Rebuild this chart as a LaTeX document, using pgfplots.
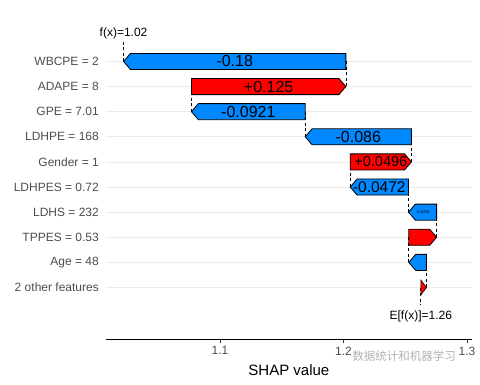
\documentclass[border=0pt]{standalone}
\usepackage{pgfplots}
\pgfplotsset{compat=1.18}
\usepackage{fontspec}
\setmainfont{Liberation Sans}
\newfontfamily\cjk{Noto Sans CJK SC}
\definecolor{shapblue}{RGB}{0,136,255}
\definecolor{shapred}{RGB}{255,0,0}
\definecolor{ticktext}{RGB}{77,77,77}
\definecolor{gridgray}{RGB}{235,235,235}
\begin{document}
\begin{tikzpicture}
\useasboundingbox (0,0) rectangle (480pt,384pt);
\begin{axis}[
  at={(106pt,44.5pt)}, anchor=south west,
  scale only axis, width=365.7pt, height=319pt,
  xmin=1.0077, xmax=1.3038, ymin=-1.07, ymax=11.63,
  clip=false,
  axis x line=bottom, axis y line=left,
  axis line style={-},
  y axis line style={draw=none},
  x axis line style={black, line width=0.8pt},
  xtick={1.1,1.2,1.3}, xticklabels={1.1,1.2,1.3},
  ytick={1,2,3,4,5,6,7,8,9,10},
  yticklabels={2 other features, Age = 48, TPPES = 0.53, LDHS = 232, LDHPES = 0.72, Gender = 1, LDHPE = 168, GPE = 7.01, ADAPE = 8, WBCPE = 2},
  /pgf/number format/assume math mode=true,
  tick align=outside,
  major tick length=3pt,
  x tick style={black!80, line width=0.6pt},
  y tick style={draw=none},
  ymajorgrids, xmajorgrids=false,
  major grid style={gridgray, line width=0.8pt},
  tick label style={font=\fontsize{12}{14}\selectfont, text=ticktext},
  yticklabel style={anchor=east, inner sep=0pt, xshift=-4pt},
  xticklabel style={anchor=north, inner sep=0pt, yshift=-4pt},
  every axis x label/.style={at={(axis description cs:0.5,0)}, anchor=center, yshift=-30.5pt, font=\fontsize{15}{17}\selectfont},
  xlabel={SHAP value},
  no markers,
]
% dashed connectors
\addplot[black, line width=0.7pt, dash pattern=on 3pt off 2.5pt] coordinates {(1.0219,10) (1.0219,10.85)};
\addplot[black, line width=0.7pt, dash pattern=on 3pt off 2.5pt] coordinates {(1.2019,10) (1.2019,9)};
\addplot[black, line width=0.7pt, dash pattern=on 3pt off 2.5pt] coordinates {(1.0769,9) (1.0769,8)};
\addplot[black, line width=0.7pt, dash pattern=on 3pt off 2.5pt] coordinates {(1.1690,8) (1.1690,7)};
\addplot[black, line width=0.7pt, dash pattern=on 3pt off 2.5pt] coordinates {(1.2550,7) (1.2550,6)};
\addplot[black, line width=0.7pt, dash pattern=on 3pt off 2.5pt] coordinates {(1.2054,6) (1.2054,5)};
\addplot[black, line width=0.7pt, dash pattern=on 3pt off 2.5pt] coordinates {(1.2526,5) (1.2526,4)};
\addplot[black, line width=0.7pt, dash pattern=on 3pt off 2.5pt] coordinates {(1.2754,4) (1.2754,3)};
\addplot[black, line width=0.7pt, dash pattern=on 3pt off 2.5pt] coordinates {(1.2529,3) (1.2529,2)};
\addplot[black, line width=0.7pt, dash pattern=on 3pt off 2.5pt] coordinates {(1.2672,2) (1.2672,1)};
\addplot[black, line width=0.7pt, dash pattern=on 3pt off 2.5pt] coordinates {(1.2626,1) (1.2626,0.30)};
% bars
\addplot[fill=shapblue, draw=black, line width=0.8pt] coordinates {(1.2019,9.68) (1.2019,10.32) (1.0275,10.32) (1.0219,10) (1.0275,9.68)} -- cycle;
\addplot[fill=shapred, draw=black, line width=0.8pt] coordinates {(1.0769,8.68) (1.0769,9.32) (1.1963,9.32) (1.2019,9) (1.1963,8.68)} -- cycle;
\addplot[fill=shapblue, draw=black, line width=0.8pt] coordinates {(1.1690,7.68) (1.1690,8.32) (1.0825,8.32) (1.0769,8) (1.0825,7.68)} -- cycle;
\addplot[fill=shapblue, draw=black, line width=0.8pt] coordinates {(1.2550,6.68) (1.2550,7.32) (1.1746,7.32) (1.1690,7) (1.1746,6.68)} -- cycle;
\addplot[fill=shapred, draw=black, line width=0.8pt] coordinates {(1.2054,5.68) (1.2054,6.32) (1.2494,6.32) (1.2550,6) (1.2494,5.68)} -- cycle;
\addplot[fill=shapblue, draw=black, line width=0.8pt] coordinates {(1.2526,4.68) (1.2526,5.32) (1.2110,5.32) (1.2054,5) (1.2110,4.68)} -- cycle;
\addplot[fill=shapblue, draw=black, line width=0.8pt] coordinates {(1.2754,3.68) (1.2754,4.32) (1.2582,4.32) (1.2526,4) (1.2582,3.68)} -- cycle;
\addplot[fill=shapred, draw=black, line width=0.8pt] coordinates {(1.2529,2.68) (1.2529,3.32) (1.2698,3.32) (1.2754,3) (1.2698,2.68)} -- cycle;
\addplot[fill=shapblue, draw=black, line width=0.8pt] coordinates {(1.2672,1.68) (1.2672,2.32) (1.2585,2.32) (1.2529,2) (1.2585,1.68)} -- cycle;
\addplot[fill=shapred, draw=black, line width=0.6pt] coordinates {(1.2626,0.70) (1.2626,1.30) (1.2672,1)} -- cycle;
% bar labels
\node[font=\fontsize{16}{18}\selectfont, inner sep=0pt] at (axis cs:1.1119,10) {-0.18};
\node[font=\fontsize{16}{18}\selectfont, inner sep=0pt] at (axis cs:1.1394,9) {+0.125};
\node[font=\fontsize{16}{18}\selectfont, inner sep=0pt] at (axis cs:1.12295,8) {-0.0921};
\node[font=\fontsize{16}{18}\selectfont, inner sep=0pt] at (axis cs:1.2120,7) {-0.086};
\node[font=\fontsize{14.5}{16}\selectfont, inner sep=0pt] at (axis cs:1.2302,6) {+0.0496};
\node[font=\fontsize{15.5}{17}\selectfont, inner sep=0pt] at (axis cs:1.2290,5) {-0.0472};
\node[font=\fontsize{4}{5}\selectfont, inner sep=0pt] at (axis cs:1.2643,4) {-0.0228};
% annotations
\node[font=\fontsize{12}{14}\selectfont, inner sep=0pt] at (axis cs:1.0219,11.12) {f(x)=1.02};
\node[font=\fontsize{12}{14}\selectfont, inner sep=0pt] at (axis cs:1.2626,-0.135) {E[f(x)]=1.26};
\end{axis}
\node[font=\cjk\fontsize{11.5}{13}\selectfont, text=black!30, inner sep=0pt] at (404pt,28pt) {数据统计和机器学习};
\end{tikzpicture}
\end{document}
